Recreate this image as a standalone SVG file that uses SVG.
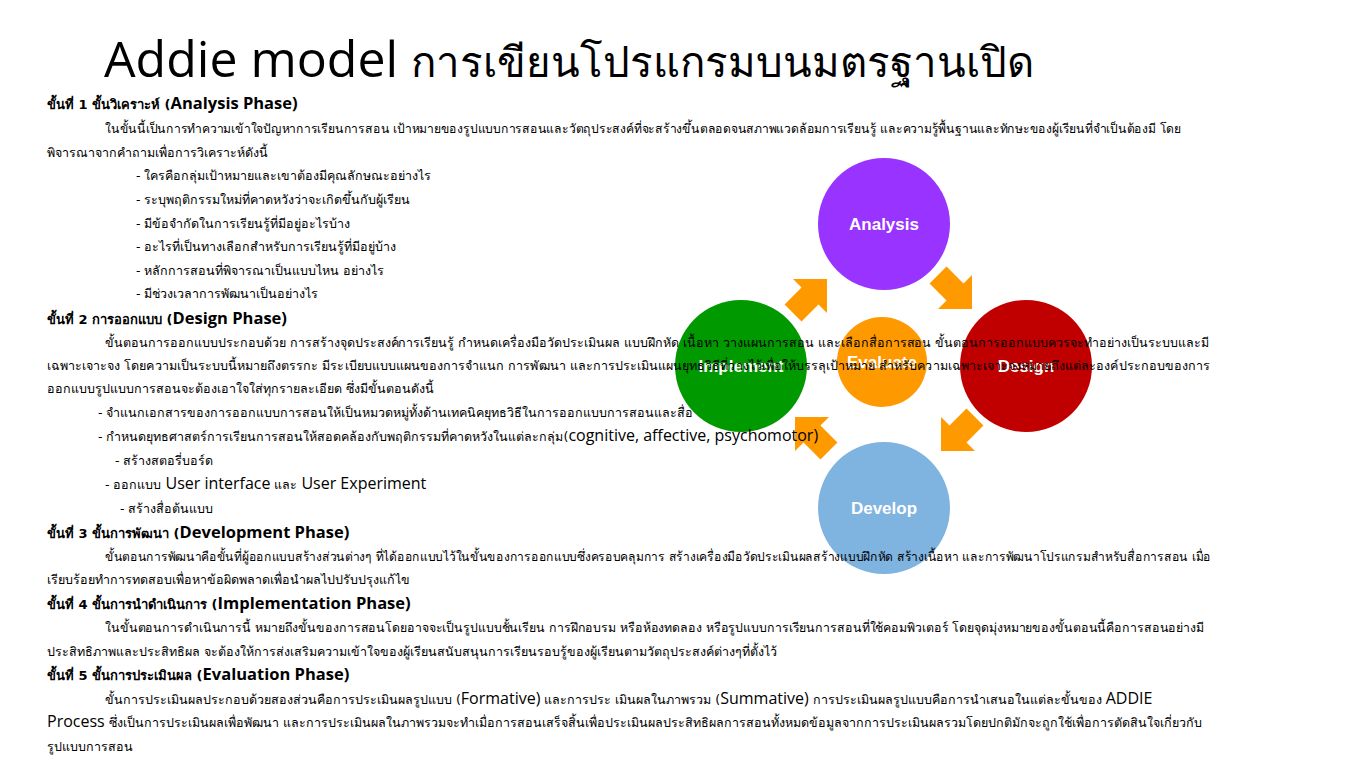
<svg xmlns="http://www.w3.org/2000/svg" width="1366" height="768" viewBox="0 0 1366 768">
<style>
.t{font-family:Tahoma,"DejaVu Sans","Noto Sans",sans-serif;font-size:12.5px;fill:#000}
.h{font-family:Tahoma,"DejaVu Sans","Noto Sans",sans-serif;font-size:13px;font-weight:bold;fill:#000}
.he{font-family:"Open Sans","Liberation Sans",sans-serif;font-size:16.5px;font-weight:bold}
.e{font-family:"Open Sans","Liberation Sans",sans-serif;font-size:16px}
.lbl{font-family:"Liberation Sans",Arial,sans-serif;font-size:17px;font-weight:bold;fill:#fff;text-anchor:middle}
.arr{fill:#ff9900}
</style>
<defs>
<path id="ar" d="M-24,-12 L0,-12 L0,-24 L24,0 L0,24 L0,12 L-24,12 Z"/>
</defs>
<rect width="1366" height="768" fill="#fff"/>
<g id="analysis"><circle cx="884" cy="224" r="66" fill="#9933ff"/><text class="lbl" x="884" y="230">Analysis</text></g>
<g id="design"><circle cx="1026" cy="366" r="66" fill="#c00000"/><text class="lbl" x="1026" y="372">Design</text></g>
<g id="develop"><circle cx="884" cy="508" r="66" fill="#7fb3e0"/><text class="lbl" x="884" y="514">Develop</text></g>
<g id="implement"><circle cx="741" cy="366" r="66" fill="#009900"/><text class="lbl" x="741" y="372">Implement</text></g>
<g id="evaluate"><circle cx="882" cy="362" r="45" fill="#ff9900"/><text class="lbl" x="882" y="368">Evaluate</text></g>
<g id="connectors">
<use href="#ar" class="arr" transform="translate(810,296) rotate(-45)"/>
<use href="#ar" class="arr" transform="translate(955,292) rotate(45)"/>
<use href="#ar" class="arr" transform="translate(958,434) rotate(135)"/>
<use href="#ar" class="arr" transform="translate(812,434) rotate(-135)"/>
</g>
<text x="104" y="77" font-family="'Open Sans','Liberation Sans',sans-serif" font-size="50" fill="#000">Addie model <tspan font-family="Tahoma,'DejaVu Sans',sans-serif" font-size="42">การเขียนโปรแกรมบนมตรฐานเปิด</tspan></text>
<text class="h" x="47" y="109">ขั้นที่ 1 ขั้นวิเคราะห์ (<tspan class="he">Analysis Phase)</tspan></text>
<text class="t" x="105" y="133" textLength="1076" lengthAdjust="spacingAndGlyphs">ในขั้นนี้เป็นการทำความเข้าใจปัญหาการเรียนการสอน เป้าหมายของรูปแบบการสอนและวัตถุประสงค์ที่จะสร้างขึ้นตลอดจนสภาพแวดล้อมการเรียนรู้ และความรู้พื้นฐานและทักษะของผู้เรียนที่จำเป็นต้องมี โดย</text>
<text class="t" x="47" y="157">พิจารณาจากคำถามเพื่อการวิเคราะห์ดังนี้</text>
<text class="t" x="136" y="180">- ใครคือกลุ่มเป้าหมายและเขาต้องมีคุณลักษณะอย่างไร</text>
<text class="t" x="136" y="204">- ระบุพฤติกรรมใหม่ที่คาดหวังว่าจะเกิดขึ้นกับผู้เรียน</text>
<text class="t" x="136" y="228">- มีข้อจำกัดในการเรียนรู้ที่มีอยู่อะไรบ้าง</text>
<text class="t" x="136" y="251">- อะไรที่เป็นทางเลือกสำหรับการเรียนรู้ที่มีอยู่บ้าง</text>
<text class="t" x="136" y="275">- หลักการสอนที่พิจารณาเป็นแบบไหน อย่างไร</text>
<text class="t" x="136" y="298">- มีช่วงเวลาการพัฒนาเป็นอย่างไร</text>
<text class="h" x="47" y="324">ขั้นที่ 2 การออกแบบ (<tspan class="he">Design Phase)</tspan></text>
<text class="t" x="105" y="347" textLength="1104" lengthAdjust="spacingAndGlyphs">ขั้นตอนการออกแบบประกอบด้วย การสร้างจุดประสงค์การเรียนรู้ กำหนดเครื่องมือวัดประเมินผล แบบฝึกหัด เนื้อหา วางแผนการสอน และเลือกสื่อการสอน ขั้นตอนการออกแบบควรจะทำอย่างเป็นระบบและมี</text>
<text class="t" x="47" y="370" textLength="1163" lengthAdjust="spacingAndGlyphs">เฉพาะเจาะจง โดยความเป็นระบบนี้หมายถึงตรรกะ มีระเบียบแบบแผนของการจำแนก การพัฒนา และการประเมินแผนยุทธวิธีที่วางไว้เพื่อให้บรรลุเป้าหมาย สำหรับความเฉพาะเจาะจงหมายถึงแต่ละองค์ประกอบของการ</text>
<text class="t" x="47" y="393">ออกแบบรูปแบบการสอนจะต้องเอาใจใส่ทุกรายละเอียด ซึ่งมีขั้นตอนดังนี้</text>
<text class="t" x="98" y="417">- จำแนกเอกสารของการออกแบบการสอนให้เป็นหมวดหมู่ทั้งด้านเทคนิคยุทธวิธีในการออกแบบการสอนและสื่อ</text>
<text class="t" x="98" y="441">- กำหนดยุทธศาสตร์การเรียนการสอนให้สอดคล้องกับพฤติกรรมที่คาดหวังในแต่ละกลุ่ม(<tspan class="e">cognitive, affective, psychomotor)</tspan></text>
<text class="t" x="115" y="465">- สร้างสตอรี่บอร์ด</text>
<text class="t" x="105" y="489">- ออกแบบ <tspan class="e">User interface</tspan> และ <tspan class="e">User Experiment</tspan></text>
<text class="t" x="120" y="513">- สร้างสื่อต้นแบบ</text>
<text class="h" x="47" y="538">ขั้นที่ 3 ขั้นการพัฒนา (<tspan class="he">Development Phase)</tspan></text>
<text class="t" x="105" y="561" textLength="1106" lengthAdjust="spacingAndGlyphs">ขั้นตอนการพัฒนาคือขั้นที่ผู้ออกแบบสร้างส่วนต่างๆ ที่ได้ออกแบบไว้ในขั้นของการออกแบบซึ่งครอบคลุมการ สร้างเครื่องมือวัดประเมินผลสร้างแบบฝึกหัด สร้างเนื้อหา และการพัฒนาโปรแกรมสำหรับสื่อการสอน เมื่อ</text>
<text class="t" x="47" y="584">เรียบร้อยทำการทดสอบเพื่อหาข้อผิดพลาดเพื่อนำผลไปปรับปรุงแก้ไข</text>
<text class="h" x="47" y="609">ขั้นที่ 4 ขั้นการนำดำเนินการ (<tspan class="he">Implementation Phase)</tspan></text>
<text class="t" x="105" y="632" textLength="1099" lengthAdjust="spacingAndGlyphs">ในขั้นตอนการดำเนินการนี้ หมายถึงขั้นของการสอนโดยอาจจะเป็นรูปแบบชั้นเรียน การฝึกอบรม หรือห้องทดลอง หรือรูปแบบการเรียนการสอนที่ใช้คอมพิวเตอร์ โดยจุดมุ่งหมายของขั้นตอนนี้คือการสอนอย่างมี</text>
<text class="t" x="47" y="656">ประสิทธิภาพและประสิทธิผล จะต้องให้การส่งเสริมความเข้าใจของผู้เรียนสนับสนุนการเรียนรอบรู้ของผู้เรียนตามวัตถุประสงค์ต่างๆที่ตั้งไว้</text>
<text class="h" x="47" y="680">ขั้นที่ 5 ขั้นการประเมินผล (<tspan class="he">Evaluation Phase)</tspan></text>
<text class="t" x="105" y="704">ขั้นการประเมินผลประกอบด้วยสองส่วนคือการประเมินผลรูปแบบ (<tspan class="e">Formative)</tspan> และการประ เมินผลในภาพรวม (<tspan class="e">Summative)</tspan> การประเมินผลรูปแบบคือการนำเสนอในแต่ละขั้นของ <tspan class="e">ADDIE</tspan></text>
<text class="t" x="47" y="727"><tspan class="e">Process</tspan> ซึ่งเป็นการประเมินผลเพื่อพัฒนา และการประเมินผลในภาพรวมจะทำเมื่อการสอนเสร็จสิ้นเพื่อประเมินผลประสิทธิผลการสอนทั้งหมดข้อมูลจากการประเมินผลรวมโดยปกติมักจะถูกใช้เพื่อการตัดสินใจเกี่ยวกับ</text>
<text class="t" x="47" y="751">รูปแบบการสอน</text>
</svg>
